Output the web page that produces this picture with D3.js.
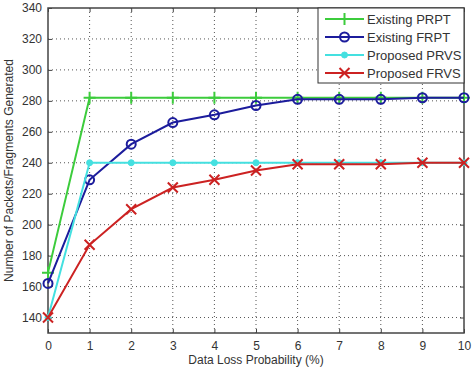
<!DOCTYPE html>
<html><head><meta charset="utf-8">
<script src="https://cdn.jsdelivr.net/npm/d3@7"></script>
<style>body{margin:0;background:#fff}svg{display:block}text{font-family:"Liberation Sans",Arial,sans-serif}</style>
</head><body><svg id="c" width="474" height="373"></svg>
<script>
const xValues = [0,1,2,3,4,5,6,7,8,9,10];
const existingPRPT = [169,282,282,282,282,282,282,282,282,282,282];
const existingFRPT = [162,229,252,266,271,277,281,281,281,282,282];
const proposedPRVS = [140,240,240,240,240,240,240,240,240,240,240];
const proposedFRVS = [140,187,210,224,229,235,239,239,239,240,240];
const yTicks = [140,160,180,200,220,240,260,280,300,320,340];
const xTicks = [0,1,2,3,4,5,6,7,8,9,10];
const seriesNames = ["Existing PRPT","Existing FRPT","Proposed PRVS","Proposed FRVS"];

const series = [
  {name:seriesNames[0], values:existingPRPT, color:"#3ccc3c", marker:"plus"},
  {name:seriesNames[1], values:existingFRPT, color:"#1c1c9c", marker:"circle"},
  {name:seriesNames[2], values:proposedPRVS, color:"#44e0e0", marker:"dot"},
  {name:seriesNames[3], values:proposedFRVS, color:"#cc2222", marker:"x"}
];

const svg = d3.select("#c");
const L=48, R=464, T=8, B=333;
const x = d3.scaleLinear().domain([0,10]).range([L,R]);
const y = d3.scaleLinear().domain([130,340]).range([B,T]);

// grid
const g = svg.append("g");
g.selectAll(".gx").data(xTicks.slice(1,-1)).enter().append("line")
  .attr("x1",d=>x(d)).attr("x2",d=>x(d)).attr("y1",B).attr("y2",T)
  .attr("stroke","#555").attr("stroke-width",1).attr("stroke-dasharray","1,3");
g.selectAll(".gy").data(yTicks.slice(0,-1)).enter().append("line")
  .attr("x1",L).attr("x2",R).attr("y1",d=>y(d)).attr("y2",d=>y(d))
  .attr("stroke","#555").attr("stroke-width",1).attr("stroke-dasharray","1,3");

// axes
const xAxis = d3.axisBottom(x).tickValues(xTicks).tickSize(-4).tickPadding(8).tickFormat(d3.format("d"));
const yAxis = d3.axisLeft(y).tickValues(yTicks).tickSize(-4).tickPadding(6);
const ax = svg.append("g").attr("transform",`translate(0,${B})`).call(xAxis);
const ay = svg.append("g").attr("transform",`translate(${L},0)`).call(yAxis);
[ax,ay].forEach(a=>{
  a.select(".domain").remove();
  a.selectAll("line").attr("stroke","#444");
  a.selectAll("text").attr("fill","#333").style("font-size","12px");
});
// top/right ticks
svg.append("g").attr("transform",`translate(0,${T})`).call(d3.axisTop(x).tickValues(xTicks).tickSize(-4).tickFormat(""))
  .call(a=>{a.select(".domain").remove();a.selectAll("line").attr("stroke","#444");});
svg.append("g").attr("transform",`translate(${R},0)`).call(d3.axisRight(y).tickValues(yTicks).tickSize(-4).tickFormat(""))
  .call(a=>{a.select(".domain").remove();a.selectAll("line").attr("stroke","#444");});

svg.append("rect").attr("x",L).attr("y",T).attr("width",R-L).attr("height",B-T)
  .attr("fill","none").attr("stroke","#444").attr("stroke-width",1.5);

const line = d3.line().x((d,i)=>x(xValues[i])).y(d=>y(d));

function drawMarker(sel, type, color){
  if(type==="plus"){
    sel.append("path").attr("d","M-6,0H6M0,-6V6").attr("stroke",color).attr("stroke-width",2).attr("fill","none");
  } else if(type==="circle"){
    sel.append("circle").attr("r",4.5).attr("fill","none").attr("stroke",color).attr("stroke-width",2);
  } else if(type==="dot"){
    sel.append("circle").attr("r",3).attr("fill",color).attr("stroke",color);
  } else if(type==="x"){
    sel.append("path").attr("d","M-5,-5L5,5M-5,5L5,-5").attr("stroke",color).attr("stroke-width",2).attr("fill","none");
  }
}

series.forEach(s=>{
  const sg = svg.append("g");
  sg.append("path").datum(s.values).attr("d",line).attr("fill","none")
    .attr("stroke",s.color).attr("stroke-width",2);
  sg.selectAll(".m").data(s.values).enter().append("g")
    .attr("transform",(d,i)=>`translate(${x(xValues[i])},${y(d)})`)
    .each(function(){drawMarker(d3.select(this), s.marker, s.color);});
});

// legend
const lg = svg.append("g");
lg.append("rect").attr("x",318).attr("y",8).attr("width",146).attr("height",75)
  .attr("fill","#fff").attr("stroke","#333").attr("stroke-width",1);
series.forEach((s,i)=>{
  const yy = 19 + i*18;
  lg.append("line").attr("x1",325).attr("x2",364).attr("y1",yy).attr("y2",yy)
    .attr("stroke",s.color).attr("stroke-width",2);
  const m = lg.append("g").attr("transform",`translate(344.5,${yy})`);
  drawMarker(m, s.marker, s.color);
  lg.append("text").attr("x",367).attr("y",yy+5).text(s.name)
    .attr("fill","#333").style("font-size","13px");
});

// axis labels
svg.append("text").attr("x",(L+R)/2).attr("y",364).attr("text-anchor","middle")
  .attr("fill","#333").style("font-size","12px").text("Data Loss Probability (%)");
svg.append("text").attr("transform",`translate(13,${(T+B)/2}) rotate(-90)`).attr("text-anchor","middle")
  .attr("fill","#333").style("font-size","12px").text("Number of Packets/Fragments Generated");
</script></body></html>
